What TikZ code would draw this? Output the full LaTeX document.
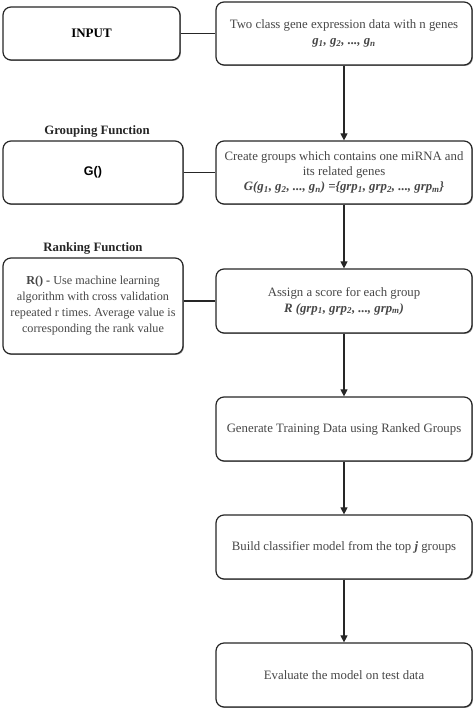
\documentclass[tikz,border=0pt]{standalone}
\usepackage{fontspec}
\setmainfont{Liberation Serif}
\newfontfamily\sansf{Liberation Sans}
\frenchspacing
\usetikzlibrary{arrows.meta,shadows}
\begin{document}
\begin{tikzpicture}[x=1pt,y=-1pt,
  box/.style={draw=black!85, line width=1.2pt, rounded corners=8pt, fill=white,
    align=center, text=black!72, font=\fontsize{12.8}{14.8}\selectfont, inner sep=2pt,
    drop shadow={shadow xshift=0.9pt, shadow yshift=-0.9pt, opacity=0.45, fill=black}},
  wbox/.style={box, minimum width=256pt, minimum height=63pt},
  lbox/.style={box, minimum width=180pt},
  lab/.style={font=\fontsize{12.8}{14.5}\selectfont\bfseries, text=black!85},
  link/.style={draw=black!85, line width=1.1pt},
  arr/.style={link, -{Triangle[width=7pt,length=7pt]}}
]
\useasboundingbox (0,0) rectangle (474,709);

\node[box, minimum width=177pt, minimum height=53pt, text=black, font=\fontsize{13}{15}\selectfont\bfseries] (input) at (91.5,33.5) {INPUT};
\node[wbox] (data) at (344,33.5) {Two class gene expression data with n genes\\[2pt] \textbf{\textit{g\textsubscript{1}, g\textsubscript{2}, ..., g\textsubscript{n}}}};

\node[lab] (glab) at (97,131) {Grouping Function};
\node[lbox, minimum height=63pt, text=black, font=\fontsize{12.5}{14.5}\selectfont\sansf\bfseries] (gf) at (93,172.5) {G()};
\node[wbox] (grp) at (344,172.5) {Create groups which contains one miRNA and\\ its related genes\\ \textbf{\textit{G(g\textsubscript{1}, g\textsubscript{2}, ..., g\textsubscript{n}) =\{grp\textsubscript{1}, grp\textsubscript{2}, ..., grp\textsubscript{m}\}}}};

\node[lab] (rlab) at (93,248) {Ranking Function};
\node[lbox, minimum height=96pt, font=\fontsize{12.2}{16}\selectfont] (rf) at (93,306) {\textbf{R() -} Use machine learning\\ algorithm with cross validation\\ repeated r times. Average value is\\ corresponding the rank value};
\node[wbox, minimum height=64pt] (score) at (344,301) {Assign a score for each group\\[1pt] \textbf{\textit{R (grp\textsubscript{1}, grp\textsubscript{2}, ..., grp\textsubscript{m})}}};

\node[wbox, minimum height=64pt] (gen) at (344,429) {Generate Training Data using Ranked Groups};
\node[wbox, minimum height=64pt] (build) at (344,547) {Build classifier model from the top \textbf{\textit{j}} groups};
\node[wbox, minimum height=64pt] (eval) at (344,675) {Evaluate the model on test data};

\draw[link] (input.east) -- (data.west);
\draw[link] (gf.east) -- (grp.west);
\draw[link] (rf.east |- score.west) -- (score.west);
\draw[arr] (data.south) -- (grp.north);
\draw[arr] (grp.south) -- (score.north);
\draw[arr] (score.south) -- (gen.north);
\draw[arr] (gen.south) -- (build.north);
\draw[arr] (build.south) -- (eval.north);
\end{tikzpicture}
\end{document}
